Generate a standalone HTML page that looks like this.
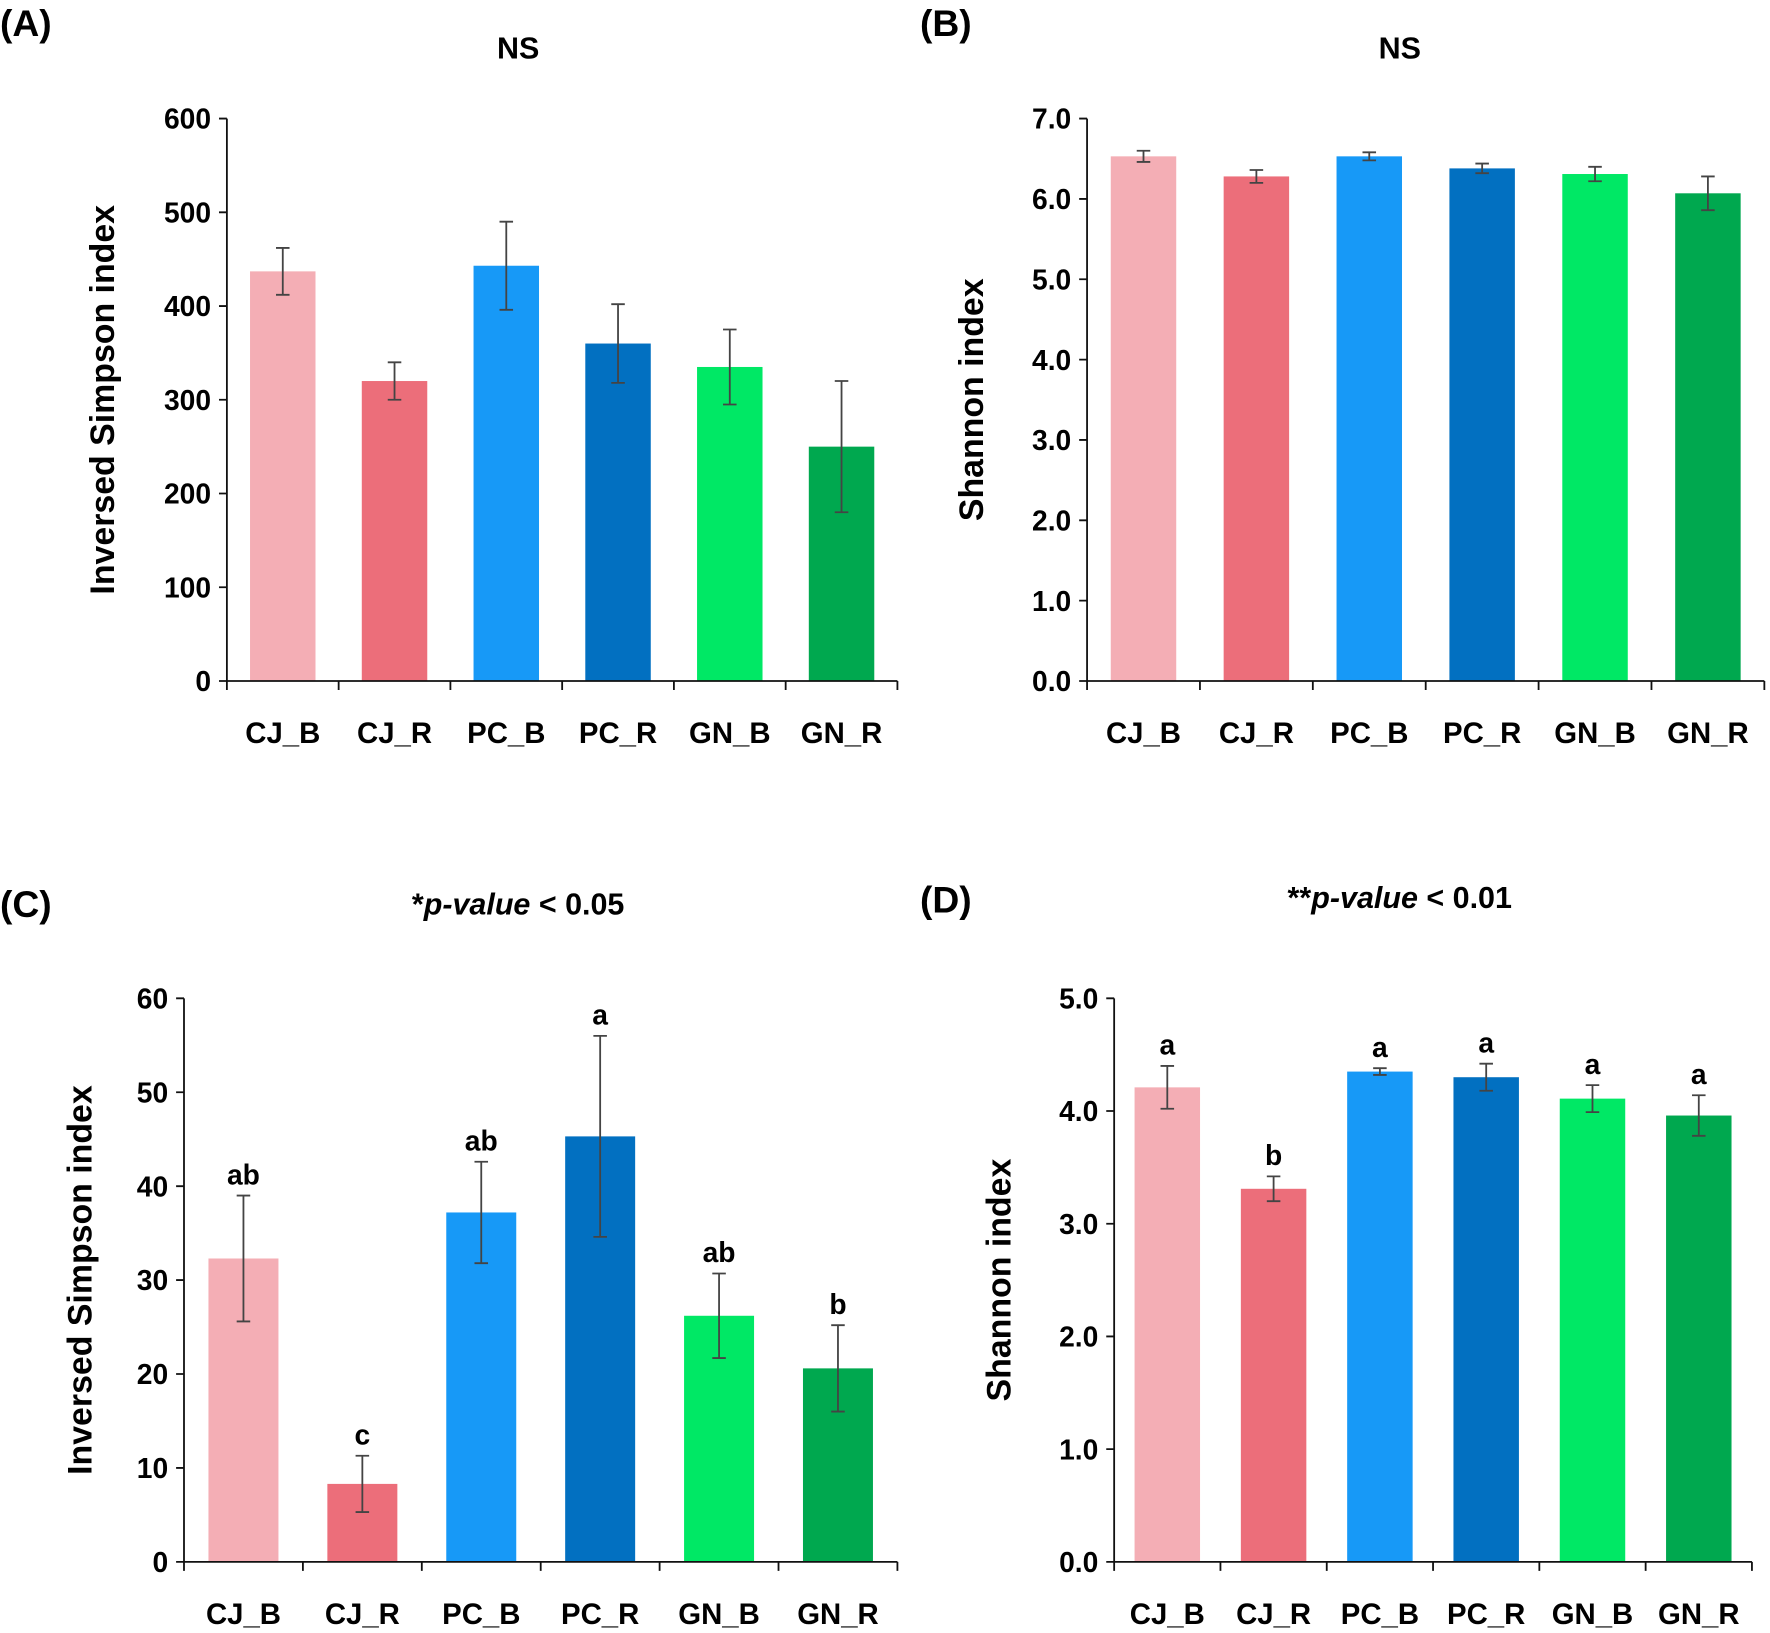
<!DOCTYPE html>
<html><head><meta charset="utf-8"><style>
html,body{margin:0;padding:0;background:#fff;}
svg{display:block;font-family:"Liberation Sans",Arial,sans-serif;font-weight:bold;}
</style></head><body>
<svg id="fig" width="1770" height="1633" viewBox="0 0 1568 1446" preserveAspectRatio="none" xmlns="http://www.w3.org/2000/svg"></svg>
<script>
const categories = ["CJ_B","CJ_R","PC_B","PC_R","GN_B","GN_R"];
const colors = ["#f4aeb5","#ec6e7a","#1799f7","#0270c1","#00e865","#00a84f"];
const valuesA = [437,320,443,360,335,250];
const errA = [25,20,47,42,40,70];
const valuesB = [6.53,6.28,6.53,6.38,6.31,6.07];
const errB = [0.07,0.08,0.05,0.06,0.09,0.21];
const valuesC = [32.3,8.3,37.2,45.3,26.2,20.6];
const errC = [6.7,3,5.4,10.7,4.5,4.6];
const lettersC = ["ab","c","ab","a","ab","b"];
const valuesD = [4.21,3.31,4.35,4.30,4.11,3.96];
const errD = [0.19,0.11,0.03,0.12,0.12,0.18];
const lettersD = ["a","b","a","a","a","a"];
const ticksA = [0,100,200,300,400,500,600];
const ticksB = [0,1,2,3,4,5,6,7];
const ticksC = [0,10,20,30,40,50,60];
const ticksD = [0,1,2,3,4,5];

const svg = document.getElementById('fig');
const NS = "http://www.w3.org/2000/svg";
function el(tag, attrs, parent){const e=document.createElementNS(NS,tag);for(const k in attrs)e.setAttribute(k,attrs[k]);(parent||svg).appendChild(e);return e;}

function panel(cfg){
  const g = el('g',{});
  
  
  const {x0,x1,yTop,yBot,max,ticks,vals,errs,letters,dec,barW} = cfg;
  const cw = (x1-x0)/categories.length;
  const yS = v => yBot - (v/max)*(yBot-yTop);
  vals.forEach((v,i)=>{
    const cx = x0 + cw*(i+0.5);
    const r = el('rect',{x:cx-barW/2,y:yS(v),width:barW,height:yBot-yS(v),fill:colors[i]},g);
    
    
    const e = errs[i];
    const eb = el('path',{d:`M${cx},${yS(v+e)}V${yS(v-e)}M${cx-6},${yS(v+e)}H${cx+6}M${cx-6},${yS(v-e)}H${cx+6}`,stroke:'#444','stroke-width':1.6,fill:'none'},g);
    
    
    if(letters){
      const t = el('text',{x:cx,y:yS(v+e)-10,'text-anchor':'middle','font-size':25},g);
      t.textContent = letters[i];
      
      
    }
    const lt = el('text',{x:cx,y:yBot+55,'text-anchor':'middle','font-size':26},g);
    lt.textContent = categories[i];
    
    
  });
  let d = `M${x0},${yTop}V${yBot}H${x1}`;
  ticks.forEach(t=>{d+=`M${x0-7},${yS(t)}H${x0}`;});
  for(let i=0;i<=categories.length;i++){d+=`M${x0+cw*i},${yBot}V${yBot+8}`;}
  const ax = el('path',{d,stroke:'#111','stroke-width':1.6,fill:'none'},g);
  
  
  ticks.forEach(t=>{
    const tt = el('text',{x:x0-14,y:yS(t)+9,'text-anchor':'end','font-size':25},g);
    tt.textContent = t.toFixed(dec);
    
    
  });
  const yt = el('text',{transform:`translate(${cfg.ytX},${(yTop+yBot)/2}) rotate(-90)`,'text-anchor':'middle','font-size':30},g);
  yt.textContent = cfg.ytitle;
  
  
  const pl = el('text',{x:cfg.plX,y:cfg.plY,'font-size':33},g);
  pl.textContent = '('+cfg.id+')';
  
  
  const ti = el('text',{x:cfg.tX,y:cfg.tY,'text-anchor':'middle','font-size':27},g);
  ti.innerHTML = cfg.title;
  
  
}
panel({id:'A',x0:201,x1:795,yTop:105,yBot:603,max:600,ticks:ticksA,vals:valuesA,errs:errA,dec:0,barW:58,ytitle:'Inversed Simpson index',ytX:101,plX:0,plY:32,tX:459,tY:52,title:'NS'});
panel({id:'B',x0:963,x1:1563,yTop:105,yBot:603,max:7,ticks:ticksB,vals:valuesB,errs:errB,dec:1,barW:58,ytitle:'Shannon index',ytX:871,plX:815,plY:32,tX:1240,tY:52,title:'NS'});
panel({id:'C',x0:163,x1:795,yTop:884,yBot:1383,max:60,ticks:ticksC,vals:valuesC,errs:errC,letters:lettersC,dec:0,barW:62,ytitle:'Inversed Simpson index',ytX:81,plX:0,plY:812,tX:459,tY:810,title:'*<tspan font-style="italic">p-value</tspan> &lt; 0.05'});
panel({id:'D',x0:987,x1:1552,yTop:884,yBot:1383,max:5,ticks:ticksD,vals:valuesD,errs:errD,letters:lettersD,dec:1,barW:58,ytitle:'Shannon index',ytX:895,plX:815,plY:808,tX:1240,tY:804,title:'**<tspan font-style="italic">p-value</tspan> &lt; 0.01'});
</script>
</body></html>
